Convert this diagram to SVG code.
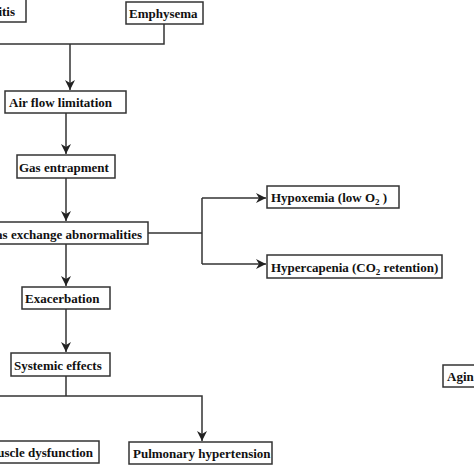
<svg xmlns="http://www.w3.org/2000/svg" width="474" height="474" viewBox="0 0 474 474">
<defs>
<marker id="arr" markerUnits="userSpaceOnUse" markerWidth="10" markerHeight="10" viewBox="0 0 10 10" refX="10" refY="5" orient="auto">
<path d="M0,0 L10,5 L0,10 L3,5 z" fill="#222"/>
</marker>
<style>
.box{fill:#fff;stroke:#333;stroke-width:1.5}
.t{font-family:"Liberation Serif","Times New Roman",serif;font-weight:bold;font-size:13px;fill:#111}
.c{fill:none;stroke:#333;stroke-width:1.5}
.s{font-size:9px}
</style>
</defs>
<rect width="474" height="474" fill="#fff"/>
<g id="connectors">
<path class="c" d="M164,24 V44 H0"/>
<path class="c" d="M70,44 V90" marker-end="url(#arr)"/>
<path class="c" d="M66,113 V154" marker-end="url(#arr)"/>
<path class="c" d="M66,178 V221" marker-end="url(#arr)"/>
<path class="c" d="M148,233 H202"/>
<path class="c" d="M202,198 V264"/>
<path class="c" d="M202,198 H266" marker-end="url(#arr)"/>
<path class="c" d="M202,264 H266" marker-end="url(#arr)"/>
<path class="c" d="M66,244 V286" marker-end="url(#arr)"/>
<path class="c" d="M66,309 V352" marker-end="url(#arr)"/>
<path class="c" d="M66,376 V396"/>
<path class="c" d="M0,396 H202 V441" marker-end="url(#arr)"/>
</g>
<g id="bronchitis">
<rect class="box" x="-60" y="-5" width="86" height="27"/>
<text class="t" x="15" y="16" text-anchor="end">itis</text>
</g>
<g id="emphysema">
<rect class="box" x="126" y="2" width="77" height="22"/>
<text class="t" x="129" y="18">Emphysema</text>
</g>
<g id="airflow">
<rect class="box" x="5" y="91" width="121" height="22"/>
<text class="t" x="9" y="107">Air flow limitation</text>
</g>
<g id="gasentrapment">
<rect class="box" x="17" y="155" width="98" height="23"/>
<text class="t" x="19" y="172">Gas entrapment</text>
</g>
<g id="gasexchange">
<rect class="box" x="-20" y="222" width="168" height="22"/>
<text class="t" x="142" y="239" text-anchor="end">as exchange abnormalities</text>
</g>
<g id="hypoxemia">
<rect class="box" x="267" y="186" width="132" height="22"/>
<text class="t" x="271" y="202">Hypoxemia (low O<tspan class="s" dy="3">2</tspan><tspan dy="-3"> )</tspan></text>
</g>
<g id="hypercapenia">
<rect class="box" x="267" y="255" width="175" height="23"/>
<text class="t" x="271" y="272">Hypercapenia (CO<tspan class="s" dy="3">2</tspan><tspan dy="-3"> retention)</tspan></text>
</g>
<g id="exacerbation">
<rect class="box" x="22" y="287" width="88" height="22"/>
<text class="t" x="25" y="303">Exacerbation</text>
</g>
<g id="systemic">
<rect class="box" x="11" y="353" width="99" height="23"/>
<text class="t" x="14" y="370">Systemic effects</text>
</g>
<g id="muscle">
<rect class="box" x="-40" y="441" width="139" height="22"/>
<text class="t" x="93" y="457" text-anchor="end">uscle dysfunction</text>
</g>
<g id="pulmonary">
<rect class="box" x="129" y="442" width="143" height="22"/>
<text class="t" x="133" y="458">Pulmonary hypertension</text>
</g>
<g id="aging">
<rect class="box" x="443" y="365" width="60" height="22"/>
<text class="t" x="447" y="381">Agin</text>
</g>
</svg>
